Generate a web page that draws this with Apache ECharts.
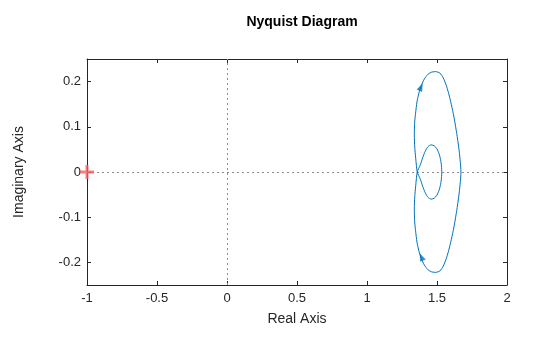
<!DOCTYPE html>
<html>
<head>
<meta charset="utf-8">
<script src="https://cdn.jsdelivr.net/npm/echarts@6/dist/echarts.min.js"></script>
<style>
html,body{margin:0;padding:0;background:#fff;}
#chart{width:560px;height:337px;}
</style>
</head>
<body>
<div id="chart"></div>
<script>
// Nyquist curve (traversal order)
var curveRe = [
  1.534, 1.532, 1.526, 1.515, 1.500, 1.480, 1.458, 1.436, 1.416, 1.398, 1.381, 1.359,
  1.348, 1.341, 1.338, 1.340, 1.347, 1.357, 1.371, 1.389, 1.410, 1.435, 1.462, 1.491,
  1.520, 1.545, 1.568, 1.588, 1.607, 1.625, 1.641, 1.655, 1.665, 1.671,
  1.665, 1.655, 1.641, 1.625, 1.607, 1.588, 1.568, 1.545, 1.520,
  1.491, 1.462, 1.435, 1.410, 1.389, 1.371, 1.357, 1.347, 1.340, 1.338, 1.341, 1.348, 1.359,
  1.381, 1.398, 1.416, 1.436, 1.458, 1.480, 1.500, 1.515, 1.526, 1.532, 1.534
];
var curveIm = [
  0.000, -0.013, -0.027, -0.040, -0.051, -0.058, -0.060, -0.056, -0.046, -0.032, -0.016, 0.000,
  0.030, 0.055, 0.082, 0.108, 0.130, 0.155, 0.175, 0.192, 0.206, 0.216, 0.221, 0.222,
  0.219, 0.208, 0.190, 0.168, 0.143, 0.115, 0.085, 0.055, 0.027, 0.000,
  -0.027, -0.055, -0.085, -0.115, -0.143, -0.168, -0.190, -0.208, -0.219,
  -0.222, -0.221, -0.216, -0.206, -0.192, -0.175, -0.155, -0.130, -0.108, -0.082, -0.055, -0.030, 0.000,
  0.016, 0.032, 0.046, 0.056, 0.060, 0.058, 0.051, 0.040, 0.027, 0.013, 0.000
];
// direction arrows
var arrowRe = [1.386, 1.388];
var arrowIm = [0.188, -0.188];
var arrowAngle = [-24, 24];
// critical point
var criticalRe = [-1];
var criticalIm = [0];
// ticks
var xTicks = [-1, -0.5, 0, 0.5, 1, 1.5, 2];
var yTicks = [-0.2, -0.1, 0, 0.1, 0.2];

var FONT = 'Liberation Sans, Arial, Helvetica, sans-serif';
var AX = '#262626';

var curveData = curveRe.map(function (r, i) { return [r, curveIm[i]]; });
var arrowData = arrowRe.map(function (r, i) {
  return { value: [r, arrowIm[i]], symbolRotate: arrowAngle[i] };
});
var critData = criticalRe.map(function (r, i) { return [r, criticalIm[i]]; });

var chart = echarts.init(document.getElementById('chart'), null, { renderer: 'canvas' });

var baseX = {
  type: 'value', min: -1, max: 2, interval: 0.5,
  axisLine: { show: true, onZero: false, lineStyle: { color: AX, width: 1 } },
  axisTick: { show: true, inside: true, length: 4, lineStyle: { color: AX } },
  splitLine: { show: false }
};
var baseY = {
  type: 'value', min: -0.25, max: 0.25,
  axisLine: { show: true, onZero: false, lineStyle: { color: AX, width: 1 } },
  axisTick: { show: true, inside: true, length: 4, customValues: yTicks, lineStyle: { color: AX } },
  splitLine: { show: false }
};

chart.setOption({
  animation: false,
  backgroundColor: '#fff',
  title: {
    text: 'Nyquist Diagram',
    left: 297, top: 10, textAlign: 'center',
    textStyle: { fontFamily: FONT, fontSize: 14, fontWeight: 'bold', color: '#000' }
  },
  grid: { left: 87, right: 53, top: 59, bottom: 52, containLabel: false },
  xAxis: [
    Object.assign({}, baseX, {
      position: 'bottom',
      name: 'Real Axis', nameLocation: 'middle', nameGap: 27,
      nameTextStyle: { fontFamily: FONT, fontSize: 14, color: AX },
      axisLabel: { show: true, margin: 7, fontFamily: FONT, fontSize: 13, color: AX,
        customValues: xTicks }
    }),
    Object.assign({}, baseX, { position: 'top', axisLabel: { show: false } })
  ],
  yAxis: [
    Object.assign({}, baseY, {
      position: 'left',
      name: 'Imaginary Axis', nameLocation: 'middle', nameGap: 61, nameRotate: 90,
      nameTextStyle: { fontFamily: FONT, fontSize: 14, color: AX },
      axisLabel: { show: true, margin: 6, fontFamily: FONT, fontSize: 13, color: AX,
        customValues: yTicks }
    }),
    Object.assign({}, baseY, { position: 'right', axisLabel: { show: false } })
  ],
  series: [
    {
      type: 'line', xAxisIndex: 0, yAxisIndex: 0,
      data: curveData, smooth: 0.25, showSymbol: false, symbol: 'none',
      lineStyle: { color: '#0072BD', width: 1 },
      z: 3,
      markLine: {
        silent: true, symbol: ['none', 'none'], label: { show: false },
        lineStyle: { color: '#8c8c8c', type: [2, 3], width: 1 },
        data: [{ xAxis: 0 }, { yAxis: 0 }],
        z: 1
      }
    },
    {
      type: 'scatter', xAxisIndex: 0, yAxisIndex: 0,
      data: arrowData, symbol: 'triangle', symbolSize: [6, 8],
      itemStyle: { color: '#0072BD' }, z: 4
    },
    {
      type: 'scatter', xAxisIndex: 0, yAxisIndex: 0, clip: false,
      data: critData,
      symbol: 'path://M0,5.5h14v3H0z M5.5,0h3v14h-3z', symbolSize: 14,
      itemStyle: { color: '#ff5a5a' }, z: 5
    }
  ]
});
</script>
</body>
</html>
